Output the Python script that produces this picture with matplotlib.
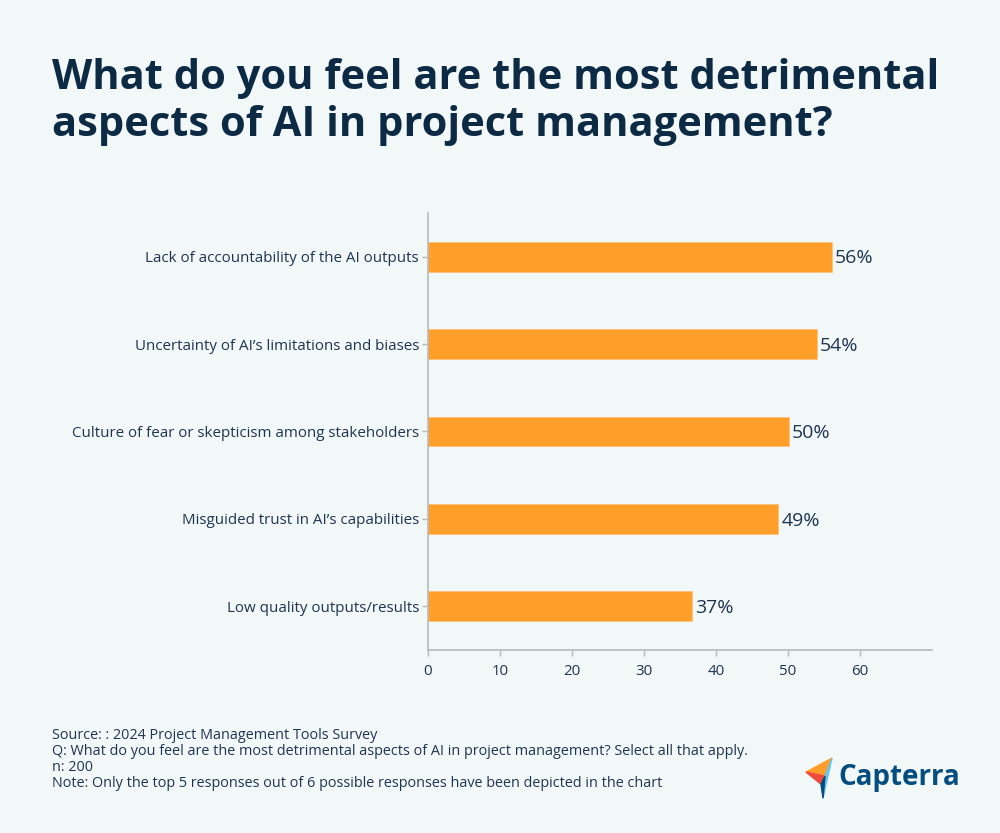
import matplotlib
matplotlib.use("Agg")
import matplotlib.pyplot as plt
from matplotlib.patches import Polygon

categories = [
    "Lack of accountability of the AI outputs",
    "Uncertainty of AI\u2019s limitations and biases",
    "Culture of fear or skepticism among stakeholders",
    "Misguided trust in AI\u2019s capabilities",
    "Low quality outputs/results",
]
values = [56.1, 54.0, 50.1, 48.6, 36.6]
xticks = [0, 10, 20, 30, 40, 50, 60]

title = "What do you feel are the most detrimental\naspects of AI in project management?"
footer = [
    "Source: : 2024 Project Management Tools Survey",
    "Q: What do you feel are the most detrimental aspects of AI in project management? Select all that apply.",
    "n: 200",
    "Note: Only the top 5 responses out of 6 possible responses have been depicted in the chart",
]

BG = "#f2f7f8"
NAVY = "#0d2a45"
TXT = "#1e3550"
BAR = "#ff9f29"

plt.rcParams['font.family'] = ['Open Sans', 'DejaVu Sans']

fig = plt.figure(figsize=(10, 8.33), dpi=100)
fig.patch.set_facecolor(BG)

ax = fig.add_axes([0.428, 0.2197, 0.504, 0.5246])
ax.set_facecolor(BG)
ypos = list(range(len(categories)))
ax.barh(ypos, values, height=0.34, color=BAR, edgecolor="#ffc27a", linewidth=0.6)
ax.set_ylim(len(categories) - 0.5, -0.5)
ax.set_xlim(0, 70)
ax.set_yticks(ypos)
ax.set_yticklabels(categories, fontsize=10.9, color=TXT)
ax.set_xticks(xticks)
ax.set_xticklabels([str(t) for t in xticks], fontsize=10.8, color=TXT)
for s in ["top", "right"]:
    ax.spines[s].set_visible(False)
for s in ["left", "bottom"]:
    ax.spines[s].set_color("#b5b9bc")
    ax.spines[s].set_linewidth(1.2)
ax.tick_params(axis="both", colors="#b5b9bc", length=4, width=1)
ax.tick_params(axis="x", labelcolor=TXT, pad=6)
ax.tick_params(axis="y", labelcolor=TXT, pad=2.5)

for y, v in zip(ypos, values):
    ax.text(v + 0.45, y + 0.02, f"{round(v)}%", va="center", ha="left", fontsize=14, color=TXT)

fig.text(0.052, 0.825, title, fontsize=30, fontweight="bold", color=NAVY,
         ha="left", va="bottom", linespacing=1.2)

for i, line in enumerate(footer):
    fig.text(0.052, 0.1165 - i * 0.0192, line, fontsize=10.4, color=TXT, ha="left", va="center")

# logo
lax = fig.add_axes([0.80, 0.037, 0.19, 0.065])
lax.set_xlim(0, 190)
lax.set_ylim(0, 54)
lax.axis("off")
lax.add_patch(Polygon([[6, 30], [32, 44], [25, 26]], closed=True, color="#ff9d28"))
lax.add_patch(Polygon([[6, 30], [25, 26], [21, 18]], closed=True, color="#ef4a3b"))
lax.add_patch(Polygon([[32, 44], [25, 26], [23, 4]], closed=True, color="#68c5ed"))
lax.add_patch(Polygon([[25, 26], [23, 4], [21, 18]], closed=True, color="#044d80"))
lax.text(38, 25, "Capterra", fontsize=20, fontweight="bold", color="#044d80",
         ha="left", va="center")

fig.savefig("out.png", dpi=100, facecolor=BG)
